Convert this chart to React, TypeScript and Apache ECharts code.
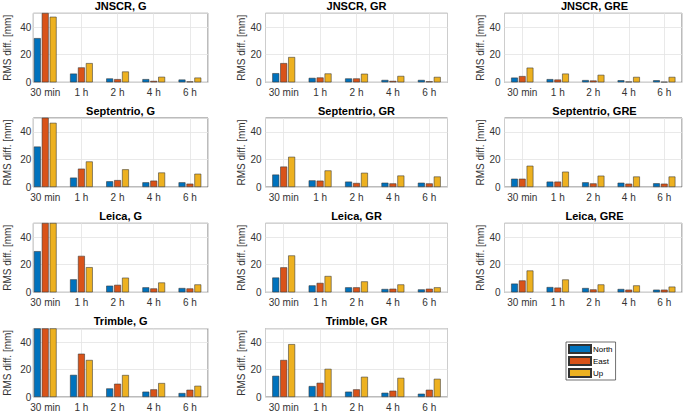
import React, { useEffect, useRef } from "react";
import * as echarts from "echarts";

const categories = ["30 min", "1 h", "2 h", "4 h", "6 h"];
const seriesNames = ["North", "East", "Up"];
const seriesColors = ["#0072BD", "#D95319", "#EDB120"];

// values above 50 are off-scale (clipped at the axis top)
const jnscrG_north = [32, 6.3, 2.8, 2.3, 2.0];
const jnscrG_east = [55, 10.8, 2.3, 1.0, 0.6];
const jnscrG_up = [47.5, 13.9, 7.8, 4.0, 3.4];

const jnscrGR_north = [6.6, 3.2, 2.8, 1.7, 1.7];
const jnscrGR_east = [13.9, 3.5, 2.8, 1.0, 0.7];
const jnscrGR_up = [18.3, 6.4, 6.2, 4.6, 3.9];

const jnscrGRE_north = [3.4, 2.3, 1.6, 1.5, 1.5];
const jnscrGRE_east = [4.5, 2.0, 1.3, 0.5, 0.3];
const jnscrGRE_up = [10.6, 6.3, 5.4, 3.9, 3.9];

const septG_north = [29.3, 6.8, 4.1, 3.4, 3.4];
const septG_east = [55, 13.3, 5.0, 4.6, 2.4];
const septG_up = [46.5, 18.5, 12.8, 10.5, 9.6];

const septGR_north = [9.0, 4.8, 3.9, 3.1, 3.1];
const septGR_east = [14.8, 4.6, 2.9, 2.6, 2.6];
const septGR_up = [21.9, 12.0, 10.3, 8.3, 7.6];

const septGRE_north = [6.0, 3.9, 3.4, 3.1, 2.7];
const septGRE_east = [6.0, 3.9, 2.6, 2.4, 2.4];
const septGRE_up = [15.4, 11.1, 8.2, 7.6, 7.6];

const leicaG_north = [29.8, 9.4, 4.8, 3.6, 3.1];
const leicaG_east = [55, 26.4, 5.4, 2.8, 2.8];
const leicaG_up = [55, 18.2, 10.6, 7.1, 5.7];

const leicaGR_north = [10.7, 5.0, 3.6, 2.4, 2.1];
const leicaGR_east = [18.1, 6.8, 3.6, 2.6, 2.6];
const leicaGR_up = [26.7, 11.8, 7.9, 5.7, 3.6];

const leicaGRE_north = [6.3, 3.8, 3.1, 2.4, 1.9];
const leicaGRE_east = [8.6, 3.4, 2.1, 1.9, 1.9];
const leicaGRE_up = [15.8, 9.3, 5.7, 5.0, 4.1];

const trimbleG_north = [55, 16.2, 6.3, 3.9, 2.9];
const trimbleG_east = [55, 31.7, 9.7, 5.6, 5.3];
const trimbleG_up = [55, 27.1, 16.1, 10.2, 8.2];

const trimbleGR_north = [15.5, 8.0, 3.9, 3.1, 2.4];
const trimbleGR_east = [27.1, 10.4, 5.6, 4.6, 5.3];
const trimbleGR_up = [38.7, 20.6, 14.8, 14.0, 13.3];

const yTicks = [0, 20, 40];
const yMax = 50;

const panels = [
  { title: "JNSCR, G", row: 0, col: 0, values: [jnscrG_north, jnscrG_east, jnscrG_up] },
  { title: "JNSCR, GR", row: 0, col: 1, values: [jnscrGR_north, jnscrGR_east, jnscrGR_up] },
  { title: "JNSCR, GRE", row: 0, col: 2, values: [jnscrGRE_north, jnscrGRE_east, jnscrGRE_up] },
  { title: "Septentrio, G", row: 1, col: 0, values: [septG_north, septG_east, septG_up] },
  { title: "Septentrio, GR", row: 1, col: 1, values: [septGR_north, septGR_east, septGR_up] },
  { title: "Septentrio, GRE", row: 1, col: 2, values: [septGRE_north, septGRE_east, septGRE_up] },
  { title: "Leica, G", row: 2, col: 0, values: [leicaG_north, leicaG_east, leicaG_up] },
  { title: "Leica, GR", row: 2, col: 1, values: [leicaGR_north, leicaGR_east, leicaGR_up] },
  { title: "Leica, GRE", row: 2, col: 2, values: [leicaGRE_north, leicaGRE_east, leicaGRE_up] },
  { title: "Trimble, G", row: 3, col: 0, values: [trimbleG_north, trimbleG_east, trimbleG_up] },
  { title: "Trimble, GR", row: 3, col: 1, values: [trimbleGR_north, trimbleGR_east, trimbleGR_up] },
];

const colLeft = [33.3, 265.5, 504.5];
const colWidth = [174.7, 182, 180];
const colXMin = [0.67, 0.5, 0.5];
const colNameGap = [21, 16, 16];
const colLabelMargin = [2, 4, 4];
const rowTop = [13.3, 118, 223.3, 328.7];
const plotHeight = 69;

const FONT = '"Liberation Sans", Arial, Helvetica, sans-serif';
const TEXT = "#333333";

export default function App() {
  const ref = useRef<HTMLDivElement>(null);

  useEffect(() => {
    if (!ref.current) return;
    const chart = echarts.init(ref.current, null, { renderer: "svg" });

    const grids: any[] = [];
    const xAxes: any[] = [];
    const yAxes: any[] = [];
    const series: any[] = [];
    const graphics: any[] = [];

    panels.forEach((p, i) => {
      const left = colLeft[p.col];
      const top = rowTop[p.row];
      const width = colWidth[p.col];
      grids.push({
        left,
        top,
        width,
        height: plotHeight,
        show: true,
        borderColor: "#555555",
        borderWidth: 0.8,
        backgroundColor: "transparent",
      });
      xAxes.push({
        type: "value",
        gridIndex: i,
        min: colXMin[p.col],
        max: categories.length + 0.5,
        minInterval: 1,
        maxInterval: 1,
        axisLine: { show: false },
        axisTick: { show: false },
        splitLine: { show: true, lineStyle: { color: "#e3e3e3", width: 0.8 } },
        axisLabel: {
          color: TEXT,
          fontSize: 10,
          fontFamily: FONT,
          margin: 5,
          formatter: (v: number) =>
            Number.isInteger(v) && v >= 1 && v <= categories.length ? categories[v - 1] : "",
        },
      });
      yAxes.push({
        type: "value",
        gridIndex: i,
        min: yTicks[0],
        max: yMax,
        interval: yTicks[1] - yTicks[0],
        name: "RMS diff. [mm]",
        nameLocation: "middle",
        nameGap: colNameGap[p.col],
        nameTextStyle: { color: TEXT, fontSize: 10, fontFamily: FONT },
        axisLine: { show: false },
        axisTick: { show: false },
        splitLine: { show: true, lineStyle: { color: "#e3e3e3", width: 0.8 } },
        axisLabel: {
          color: TEXT,
          fontSize: 10,
          fontFamily: FONT,
          margin: colLabelMargin[p.col],
          showMaxLabel: false,
          formatter: (v: number) => (yTicks.includes(v) ? String(v) : ""),
        },
      });
      p.values.forEach((vals, s) => {
        series.push({
          type: "bar",
          name: seriesNames[s],
          xAxisIndex: i,
          yAxisIndex: i,
          data: categories.map((_, k) => [k + 1, vals[k]]),
          barWidth: "19%",
          barGap: "15%",
          clip: true,
          itemStyle: {
            color: seriesColors[s],
            borderColor: "#333333",
            borderWidth: 0.55,
          },
        });
      });
      graphics.push({
        type: "text",
        x: left + width / 2,
        y: top - 7.5,
        style: {
          text: p.title,
          align: "center",
          verticalAlign: "middle",
          font: `bold 11px ${FONT}`,
          fill: "#000000",
        },
      });
    });

    chart.setOption({
      animation: false,
      backgroundColor: "#ffffff",
      grid: grids,
      xAxis: xAxes,
      yAxis: yAxes,
      series,
      graphic: graphics,
      legend: {
        data: seriesNames,
        orient: "vertical",
        left: 566,
        top: 342,
        itemWidth: 22,
        itemHeight: 8,
        itemGap: 2,
        padding: [2, 3, 2, 2],
        borderColor: "#333333",
        borderWidth: 0.7,
        backgroundColor: "#ffffff",
        selectedMode: false,
        icon: "rect",
        textStyle: { color: "#000000", fontSize: 8, fontFamily: FONT, padding: [0, 0, 0, -3] },
      },
    });

    return () => chart.dispose();
  }, []);

  return (
    <div
      ref={ref}
      style={{ position: "absolute", left: 0, top: 0, width: 685, height: 412 }}
    />
  );
}
